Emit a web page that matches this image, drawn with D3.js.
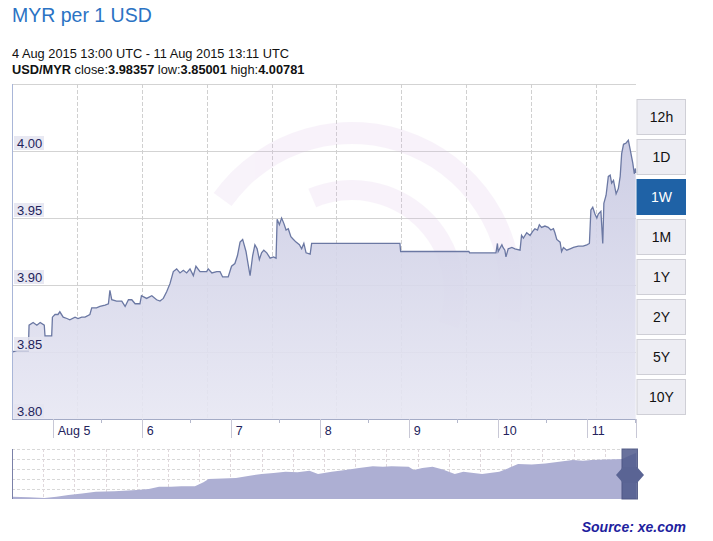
<!DOCTYPE html>
<html>
<meta charset="utf-8">
<script src="https://cdn.jsdelivr.net/npm/d3@7"></script>
<style>
body{
	margin:0;
	background:#fff;
	font-family:"Liberation Sans", Arial, sans-serif;
}
</style>
<body>
<svg id="chart" width="713" height="541"></svg>
<script>
// range of the main chart
const startTime = new Date(Date.UTC(2015, 7, 4, 13, 0));
const endTime = new Date(Date.UTC(2015, 7, 11, 13, 11));

// hours after 4 Aug 13:00 UTC
const hours = [0.0,1.3,4.0,4.4,4.6,5.7,6.7,7.6,8.7,8.9,10.7,10.9,11.6,12.4,12.9,13.8,14.8,15.6,17.0,17.8,18.8,19.7,21.0,21.5,22.8,23.7,25.1,26.0,26.4,26.9,28.2,29.6,30.5,31.4,32.3,33.2,34.5,34.9,36.3,37.7,39.0,39.9,40.8,41.7,42.6,43.5,44.4,45.3,46.2,47.1,48.0,48.9,49.6,50.7,52.5,52.9,53.9,55.2,56.1,56.8,58.3,59.2,60.1,60.8,61.5,62.2,63.1,63.7,64.2,64.9,65.5,66.1,66.7,67.3,67.9,68.7,69.6,70.5,71.2,71.5,72.1,72.7,73.3,73.9,74.5,75.2,75.9,76.6,77.5,78.1,78.7,79.3,80.4,80.8,104.6,104.8,123.2,123.4,130.5,130.9,131.1,132.1,132.4,132.9,133.2,133.8,134.8,135.6,137.0,137.4,137.9,138.8,139.7,140.4,141.0,141.7,142.2,142.8,143.7,144.6,145.3,146.0,146.4,146.9,147.8,148.2,148.7,149.6,150.5,151.4,152.7,154.0,155.0,155.7,156.1,156.6,157.2,157.7,158.1,158.8,159.3,159.6,160.2,160.8,161.3,161.7,162.2,162.9,163.5,164.0,164.4,164.9,165.6,166.2,166.7,167.4,167.8,168.1,168.18];
const rates = [3.850,3.851,3.851,3.851,3.870,3.872,3.870,3.872,3.870,3.862,3.862,3.876,3.878,3.878,3.880,3.876,3.875,3.874,3.876,3.875,3.876,3.876,3.878,3.883,3.883,3.884,3.885,3.886,3.896,3.889,3.888,3.888,3.884,3.889,3.889,3.886,3.886,3.892,3.890,3.892,3.889,3.888,3.890,3.895,3.901,3.910,3.912,3.909,3.911,3.909,3.912,3.907,3.914,3.910,3.910,3.912,3.909,3.910,3.910,3.906,3.906,3.914,3.916,3.922,3.932,3.934,3.925,3.915,3.907,3.922,3.930,3.927,3.919,3.924,3.926,3.924,3.920,3.921,3.920,3.949,3.945,3.950,3.946,3.941,3.942,3.936,3.934,3.932,3.930,3.927,3.931,3.924,3.923,3.931,3.931,3.925,3.925,3.924,3.924,3.931,3.925,3.930,3.928,3.926,3.921,3.927,3.928,3.927,3.926,3.937,3.935,3.939,3.937,3.940,3.942,3.941,3.945,3.943,3.944,3.943,3.941,3.942,3.939,3.934,3.932,3.925,3.928,3.926,3.927,3.928,3.929,3.929,3.930,3.931,3.956,3.958,3.953,3.950,3.953,3.955,3.931,3.961,3.967,3.981,3.982,3.976,3.978,3.968,3.972,3.981,3.998,4.005,4.006,4.008,4.001,3.991,3.983,3.987,3.98357];

const yTicks = [3.80, 3.85, 3.90, 3.95, 4.00];
const dayLabels = ["Aug 5", "6", "7", "8", "9", "10", "11"];
const ranges = ["12h", "1D", "1W", "1M", "1Y", "2Y", "5Y", "10Y"];
const activeRange = "1W";

// navigator: days after 11 Aug 2014
const navDays = [0,10,19,26,33,41,49,60,73,80,86,93,99,107,112,115,123,131,139,146,153,160,167,174,179,187,195,203,211,217,222,232,235,240,246,252,259,264,270,275,285,290,296,304,312,320,328,334,339,348,357,361,365];
const navRates = [3.19,3.18,3.17,3.19,3.22,3.25,3.28,3.29,3.31,3.33,3.37,3.37,3.38,3.38,3.45,3.51,3.52,3.53,3.57,3.60,3.62,3.64,3.63,3.66,3.60,3.64,3.67,3.71,3.74,3.73,3.74,3.73,3.67,3.71,3.73,3.68,3.60,3.64,3.62,3.60,3.64,3.70,3.78,3.77,3.79,3.82,3.85,3.84,3.85,3.86,3.87,3.93,3.98];
const navStart = new Date(Date.UTC(2014, 7, 11));

const svg = d3.select("#chart");
const pLeft = 12, pRight = 636, pTop = 84, pBottom = 419;

// texts on top
svg.append("text").attr("x", 12).attr("y", 22)
	.style("font-size", "19.5px").attr("fill", "#2b73c4")
	.text("MYR per 1 USD");
svg.append("text").attr("x", 12).attr("y", 58)
	.style("font-size", "12.8px").attr("fill", "#111")
	.text("4 Aug 2015 13:00 UTC - 11 Aug 2015 13:11 UTC");
const info = svg.append("text").attr("x", 12).attr("y", 74)
	.style("font-size", "12.8px").attr("fill", "#111");
info.append("tspan").style("font-weight", "bold").text("USD/MYR");
info.append("tspan").text(" close:");
info.append("tspan").style("font-weight", "bold").text("3.98357");
info.append("tspan").text(" low:");
info.append("tspan").style("font-weight", "bold").text("3.85001");
info.append("tspan").text(" high:");
info.append("tspan").style("font-weight", "bold").text("4.00781");

// scales
const x = d3.scaleUtc().domain([startTime, endTime]).range([pLeft, pRight - 0.3]);
const y = d3.scaleLinear().domain([3.80, 4.05]).range([pBottom, pTop]);
const data = hours.map((h, i) => ({t: new Date(startTime.getTime() + h * 3600e3), v: rates[i]}));

// gradient for the area
const defs = svg.append("defs");
const grad = defs.append("linearGradient").attr("id", "fillgrad")
	.attr("x1", 0).attr("y1", 0).attr("x2", 0).attr("y2", 1);
grad.append("stop").attr("offset", "0%").attr("stop-color", "#c8c9e2");
grad.append("stop").attr("offset", "100%").attr("stop-color", "#e7e7f3");

// horizontal grid
svg.append("g").selectAll("line")
	.data(yTicks.concat([4.05]))
	.join("line")
	.attr("x1", pLeft).attr("x2", pRight)
	.attr("y1", d => Math.round(y(d)) + 0.5).attr("y2", d => Math.round(y(d)) + 0.5)
	.attr("stroke", "#d3d3d3");

// vertical dashed grid (every 17.5 hours)
const gridTimes = d3.range(1, 10).map(k => new Date(startTime.getTime() + k * 17.5 * 3600e3));
svg.append("g").selectAll("line")
	.data(gridTimes)
	.join("line")
	.attr("x1", d => Math.round(x(d)) + 0.5).attr("x2", d => Math.round(x(d)) + 0.5)
	.attr("y1", pTop).attr("y2", pBottom)
	.attr("stroke", "#d0d0d0")
	.attr("stroke-dasharray", "4,2");

// faint xe watermark
const wm = svg.append("g").attr("transform", "translate(352,292)").attr("opacity", 0.17);
wm.append("path").attr("d", d3.arc()({innerRadius: 148, outerRadius: 170, startAngle: -0.95, endAngle: 1.75}))
	.attr("fill", "#d8b8e4");
wm.append("path").attr("d", d3.arc()({innerRadius: 92, outerRadius: 112, startAngle: -0.4, endAngle: 1.9}))
	.attr("fill", "#d8b8e4");

// area + line
svg.append("path").datum(data)
	.attr("d", d3.area().x(d => x(d.t)).y0(pBottom).y1(d => y(d.v)))
	.attr("fill", "url(#fillgrad)")
	.attr("opacity", 0.9);
svg.append("path").datum(data)
	.attr("d", d3.line().x(d => x(d.t)).y(d => y(d.v)))
	.attr("fill", "none")
	.attr("stroke", "#6b78a3")
	.attr("stroke-width", 1.3);

// y labels inside the plot
const yl = svg.append("g").selectAll("g").data(yTicks).join("g");
yl.append("rect")
	.attr("x", 14).attr("width", 30)
	.attr("y", d => y(d) - 15).attr("height", 14)
	.attr("fill", "#e4e4f0").attr("opacity", 0.85);
yl.append("text")
	.attr("x", 17).attr("y", d => y(d) - 3.5)
	.style("font-size", "13px").attr("fill", "#23235c")
	.text(d => d.toFixed(2));

// axes lines
svg.append("line").attr("x1", pLeft + 0.5).attr("x2", pLeft + 0.5).attr("y1", pTop).attr("y2", pBottom)
	.attr("stroke", "#a9b6d8");
svg.append("line").attr("x1", pLeft).attr("x2", pRight).attr("y1", pBottom + 0.5).attr("y2", pBottom + 0.5)
	.attr("stroke", "#a4abc6");

// x ticks: midnight labels, 13:00 minor ticks
const dayTicks = d3.utcDay.range(d3.utcDay.offset(d3.utcDay.floor(startTime), 1), endTime);
const minorTicks = d3.utcHour.range(startTime, endTime, 1).filter(d => d.getUTCHours() == 13);
svg.append("g").selectAll("line").data(dayTicks.concat([endTime])).join("line")
	.attr("x1", d => Math.round(x(d)) + 0.5).attr("x2", d => Math.round(x(d)) + 0.5)
	.attr("y1", pBottom).attr("y2", pBottom + 19)
	.attr("stroke", "#c8c8d6");
svg.append("g").selectAll("line").data(minorTicks.slice(1)).join("line")
	.attr("x1", d => Math.round(x(d)) + 0.5).attr("x2", d => Math.round(x(d)) + 0.5)
	.attr("y1", pBottom).attr("y2", pBottom + 4)
	.attr("stroke", "#b4b8cc");
svg.append("g").selectAll("text").data(dayTicks).join("text")
	.attr("x", d => x(d) + 5).attr("y", pBottom + 16)
	.style("font-size", "12.5px").attr("fill", "#23235c")
	.text((d, i) => dayLabels[i]);

// range buttons
const btn = svg.append("g").selectAll("g").data(ranges).join("g")
	.attr("transform", (d, i) => "translate(637," + (99.5 + i * 40) + ")");
btn.append("rect")
	.attr("width", 48.5).attr("height", 35)
	.attr("fill", d => d == activeRange ? "#1f62a6" : "#ededf3")
	.attr("stroke", d => d == activeRange ? "#1f62a6" : "#cfcfd6");
btn.append("text")
	.attr("x", 24.5).attr("y", 22.5)
	.attr("text-anchor", "middle")
	.style("font-size", "14px")
	.attr("fill", d => d == activeRange ? "#fff" : "#111")
	.text(d => d);

// navigator
const navTop = 449, navBottom = 499;
const nx = d3.scaleUtc().domain([navStart, d3.utcDay.offset(navStart, 365)]).range([pLeft, pRight]);
const ny = d3.scaleLinear().domain([3.15, 4.05]).range([navBottom, navTop]);
const navData = navDays.map((d, i) => ({t: d3.utcDay.offset(navStart, d), v: navRates[i]}));
const nav = svg.append("g");
nav.selectAll(".nh").data(d3.range(0, 5)).join("line")
	.attr("x1", pLeft).attr("x2", pRight)
	.attr("y1", k => navTop + 0.5 + k * 10).attr("y2", k => navTop + 0.5 + k * 10)
	.attr("stroke", "#d8d8d8").attr("stroke-dasharray", "3,2");
nav.selectAll(".nv").data(d3.range(1, 20)).join("line")
	.attr("x1", k => Math.round(pLeft + k * 31.2) + 0.5).attr("x2", k => Math.round(pLeft + k * 31.2) + 0.5)
	.attr("y1", navTop).attr("y2", navBottom)
	.attr("stroke", "#e0d8dc").attr("stroke-dasharray", "3,2");
nav.append("path").datum(navData)
	.attr("d", d3.area().x(d => nx(d.t)).y0(navBottom).y1(d => ny(d.v)))
	.attr("fill", "#adafd3");
nav.append("line").attr("x1", pLeft + 0.5).attr("x2", pLeft + 0.5).attr("y1", navTop).attr("y2", navBottom)
	.attr("stroke", "#7a80a8");
// handle
nav.append("rect").attr("x", 622).attr("y", navTop).attr("width", 15.5).attr("height", navBottom - navTop)
	.attr("fill", "#4f5a8c").attr("opacity", 0.85).attr("stroke", "#3f4878");
nav.append("path")
	.attr("d", "M616,475 L623,467 L637,467 L644,475 L637,483 L623,483 Z")
	.attr("fill", "#5a6494");

// source
svg.append("text").attr("x", 686).attr("y", 532)
	.attr("text-anchor", "end")
	.style("font-size", "14px").style("font-weight", "bold").style("font-style", "italic")
	.attr("fill", "#1e1e9e")
	.text("Source: xe.com");
</script>
</body>
</html>
